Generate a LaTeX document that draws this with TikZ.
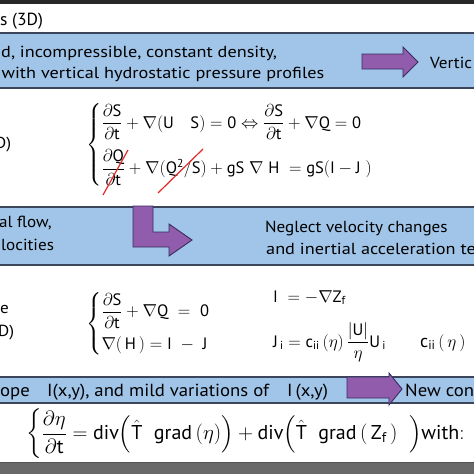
\documentclass[tikz,border=0pt]{standalone}
\usepackage{amsmath}
\usepackage{fontspec}
\setmainfont{PT Sans}
\setsansfont{PT Sans}
\newfontfamily\bandfont{PT Sans}[FakeStretch=1.07]
\newfontfamily\bandwide{PT Sans}[FakeStretch=1.14]
\definecolor{bandblue}{RGB}{160,197,232}
\definecolor{bandline}{RGB}{60,70,90}
\definecolor{arrowfill}{RGB}{145,92,172}
\definecolor{arrowline}{RGB}{55,45,95}
\definecolor{strike}{RGB}{228,40,40}
\definecolor{topbar}{RGB}{40,40,40}
\definecolor{botbar}{RGB}{105,105,105}
\tikzset{
  band/.style={fill=bandblue, draw=bandline, line width=1.1pt},
  parrow/.style={fill=arrowfill, draw=arrowline, line width=0.9pt, line join=miter},
  txt/.style={anchor=base west, inner sep=0pt, font=\bandfont\fontsize{16}{19}\selectfont},
  txtwide/.style={anchor=base west, inner sep=0pt, font=\bandwide\fontsize{16}{19}\selectfont},
  txtbig/.style={anchor=base west, inner sep=0pt, font=\bandfont\fontsize{17.5}{20}\selectfont},
  ttl/.style={anchor=base west, inner sep=0pt, font=\fontsize{17.5}{20}\selectfont},
  eq/.style={inner sep=0pt, font=\fontsize{16.5}{19}\selectfont},
  eqbig/.style={inner sep=0pt, font=\fontsize{20}{24}\selectfont},
  strikeout/.style={draw=strike, line width=1.2pt},
}
\begin{document}
\begin{tikzpicture}[x=1pt,y=-1pt]
\useasboundingbox (0,0) rectangle (474,474);
\fill[white] (0,0) rectangle (474,474);
% top and bottom bars
\fill[topbar] (0,0) rectangle (474,3.5);
\fill[botbar] (0,462) rectangle (474,474);
\draw[topbar!80, line width=1pt] (0,462) -- (474,462);
% title row
\node[ttl] (title) at (0,25) {s (3D)};
% band 1
\path[band] (-2,33) rectangle (476,88);
\node[txtwide] (b1a) at (1,57) {d, incompressible, constant density,};
\node[txtwide] (b1b) at (1.5,78) {with vertical hydrostatic pressure profiles};
\path[parrow] (362,54) -- (403,54) -- (403,47) -- (418,62) -- (403,77) -- (403,69) -- (362,69) -- cycle;
\node[txt] (b1c) at (430,68) {Vertic};
% equations block 1
\node[txt] (l1) at (-5,148) {D)};
\node[eq, anchor=west] (eqA) at (86,145) {$\left\{\begin{array}{@{}l@{}}
\dfrac{\partial\mathrm{S}}{\partial\mathrm{t}}+\nabla(\mathrm{U}\quad\mathrm{S})=\mathrm{0}\Leftrightarrow\dfrac{\partial\mathrm{S}}{\partial\mathrm{t}}+\nabla\mathrm{Q}=\mathrm{0}\\[16pt]
\dfrac{\partial\mathrm{Q}}{\partial\mathrm{t}}+\nabla(\mathrm{Q}^{\mathrm{2}}/\mathrm{S})+\mathrm{gS}\;\nabla\;\mathrm{H}\;=\mathrm{gS}(\mathrm{I}-\mathrm{J}\;)
\end{array}\right.$};
\draw[strikeout] (103,195) -- (128,150);
\draw[strikeout] (158,193) -- (203,149);
% band 2
\path[band] (-2,207) rectangle (476,265);
\node[txt] (b2a) at (-1,227) {al flow,};
\node[txt] (b2b) at (1,250) {locities};
\path[parrow] (133,206) -- (153,206) -- (153,232) -- (169,232) -- (169,224) -- (192,240) -- (169,256) -- (169,247) -- (133,247) -- cycle;
\node[txt] (b2c) at (265,232) {Neglect velocity changes};
\node[txtwide] (b2d) at (266,254) {and inertial acceleration te};
% equations block 2
\node[txt] (l2a) at (0,313) {e};
\node[txt] (l2b) at (-2,336) {D)};
\node[eq, anchor=west] (eqB) at (86,324) {$\left\{\begin{array}{@{}l@{}}
\dfrac{\partial\mathrm{S}}{\partial\mathrm{t}}+\nabla\mathrm{Q}\;=\;\mathrm{0}\\[13pt]
\nabla(\,\mathrm{H}\,)=\mathrm{I}\;-\;\mathrm{J}
\end{array}\right.$};
\node[eq, anchor=base west] (eqC) at (273,302) {$\mathrm{I}\;=-\nabla\mathrm{Z}_{\mathrm{f}}$};
\node[eq, anchor=base west] (eqD) at (273,347) {$\mathrm{J}_{\,\mathrm{i}}=\mathrm{c}_{\mathrm{ii}}\,(\eta)\,\dfrac{\left|\mathrm{U}\right|}{\eta}\mathrm{U}_{\,\mathrm{i}}$};
\node[eq, anchor=base west, font=\fontsize{18}{20}\selectfont] (eqE) at (420,347) {$\mathrm{c}_{\mathrm{ii}}\,(\,\eta\,)$};
% band 3
\path[band] (-2,377) rectangle (476,403);
\node[txtbig] (b3a) at (0,396) {ope};
\node[txtbig] (b3b) at (47,396) {I(x,y), and mild variations of};
\node[txtbig] (b3c) at (287,396) {I\,(x,y)};
\path[parrow] (347,377) -- (389,377) -- (389,373) -- (402,389) -- (389,405) -- (389,398) -- (347,398) -- cycle;
\node[txtbig] (b3d) at (405,396) {New con};
% equation 3
\node[eqbig, anchor=west] (eqF) at (26,434) {$\left\{\dfrac{\partial\eta}{\partial\mathrm{t}}=\mathrm{div}\Bigl(\hat{\mathrm{T}}\;\;\mathrm{grad}\,(\eta)\Bigr)+\mathrm{div}\Bigl(\hat{\mathrm{T}}\;\;\mathrm{grad}\,(\,\mathrm{Z}_{\mathrm{f}}\,)\;\;\Bigr)\mathrm{with}\mathrm{:}\right.$};
\end{tikzpicture}
\end{document}
